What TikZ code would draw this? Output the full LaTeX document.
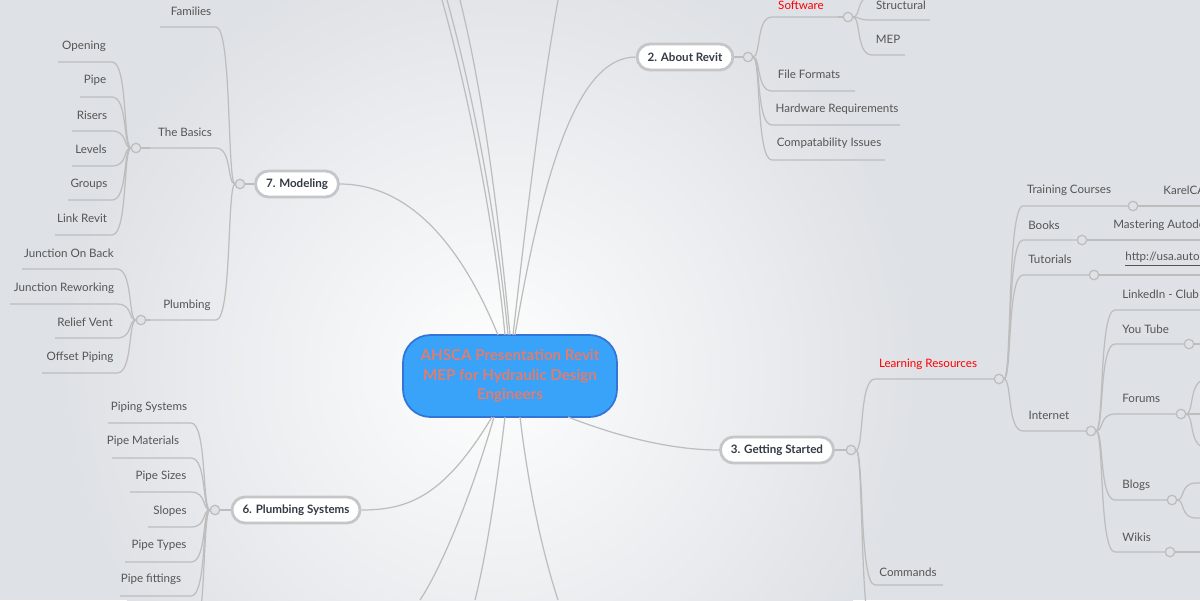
\documentclass[tikz,border=0pt]{standalone}
\usepackage{fontspec}
\setmainfont{Lato}
\begin{document}
\begin{tikzpicture}[x=0.02cm,y=-0.02cm,
  ln/.style={draw=lineg,line width=0.7pt},
  dot/.style={circle,draw=lineg,line width=0.7pt,fill=bgc,minimum size=0.19cm,inner sep=0pt},
  lab/.style={font=\fontsize{6.6}{8}\selectfont,text=txtg,inner sep=0pt},
  rlab/.style={lab,text=red},
  topic/.style={draw=topb,line width=1.6pt,fill=white,rounded corners=0.26cm,minimum height=0.52cm,inner xsep=6pt,font=\fontsize{6.6}{8}\selectfont\bfseries,text=txtd}]
\definecolor{bgc}{HTML}{DEE1E5}
\definecolor{lineg}{HTML}{BDBDBD}
\definecolor{txtg}{HTML}{555555}
\definecolor{txtd}{HTML}{333a44}
\definecolor{topb}{HTML}{C4C6C9}
\newcommand\rb[4]{\draw[ln] ({#1+5},#2) .. controls ({#1+13},#2) and ({#1+8},#3) .. ({#1+24},#3) -- (#4,#3);}
\newcommand\lb[4]{\draw[ln] ({#1-5},#2) .. controls ({#1-13},#2) and ({#1-8},#3) .. ({#1-24},#3) -- (#4,#3);}
\useasboundingbox (0,0) rectangle (1200,600);
\clip (0,0) rectangle (1200,600);
\fill[bgc] (0,0) rectangle (1200,600);
\shade[inner color=white!97!bgc,outer color=bgc] (490,370) circle (430);
% central
\node[draw=blue!60!cyan!80!black!80,line width=1pt,fill={rgb,255:red,56;green,163;blue,248},rounded corners=0.55cm,minimum width=4.28cm,minimum height=1.64cm,align=center,font=\fontsize{8.6}{11.2}\selectfont\bfseries,text={rgb,255:red,226;green,124;blue,110}] (ctr) at (510,376) {AHSCA Presentation Revit\\MEP for Hydraulic Design\\Engineers};
% topics
\node[topic] (about) at (685,57) {2. About Revit};
\node[topic] (model) at (297,184) {7. Modeling};
\node[topic] (gs) at (777,450) {3. Getting Started};
\node[topic] (ps) at (296,510) {6. Plumbing Systems};
\coordinate (t1) at (442,0); \coordinate (t2) at (447,0); \coordinate (t3) at (460,0); \coordinate (t4) at (558,0);
\coordinate (b1) at (420,600); \coordinate (b2) at (475,600); \coordinate (b3) at (558,600);
\draw[ln] (515,335) .. controls (545,160) and (580,57) .. (about.west);
\draw[ln] (498,335) .. controls (455,230) and (400,184) .. (model.east);
\draw[ln] (568,417) .. controls (640,445) and (690,450) .. (gs.west);
\draw[ln] (492,417) .. controls (445,495) and (410,510) .. (ps.east);
\draw[ln] (505,335) .. controls (495,230) and (470,100) .. (t1);
\draw[ln] (508,335) .. controls (498,230) and (475,100) .. (t2);
\draw[ln] (510,335) .. controls (500,230) and (485,100) .. (t3);
\draw[ln] (513,335) .. controls (525,230) and (540,100) .. (t4);
\draw[ln] (494,417) .. controls (470,500) and (440,570) .. (b1);
\draw[ln] (505,417) .. controls (495,500) and (485,560) .. (b2);
\draw[ln] (520,417) .. controls (530,500) and (545,560) .. (b3);
% 2. About Revit
\node[dot] (c2) at (748,57) {}; \draw[ln] (about.east) -- (c2.west);
\rb{748}{57}{17}{838}\rb{748}{57}{91}{855}\rb{748}{57}{125}{900}\rb{748}{57}{160}{885}
\node[rlab] (sw) at (801,5) {Software};
\node[lab] at (809,74) {File Formats};
\node[lab] at (837,109) {Hardware Requirements};
\node[lab] at (829,143) {Compatability Issues};
\node[dot] (c2a) at (848,17) {}; \draw[ln] (c2a.west) -- (838,17);
\rb{848}{17}{-4}{930}\rb{848}{17}{20}{930}\rb{848}{17}{55}{905}
\node[lab] at (901,5) {Structural};
\node[lab] at (888,39) {MEP};
% 7. Modeling
\node[dot] (c7) at (240,184) {}; \draw[ln] (model.west) -- (c7.east);
\lb{240}{184}{27}{160}\lb{240}{184}{148}{150}\lb{240}{184}{320}{150}
\node[lab] at (191,11) {Families};
\node[lab] at (185,132) {The Basics};
\node[lab] at (187,305) {Plumbing};
\node[dot] (c7a) at (136,148) {}; \draw[ln] (c7a.east) -- (150,148);
\lb{136}{148}{62}{58}\lb{136}{148}{97}{80}\lb{136}{148}{131}{72}\lb{136}{148}{166}{72}\lb{136}{148}{200}{68}\lb{136}{148}{235}{55}
\node[lab] at (84,46) {Opening};
\node[lab] at (95,80) {Pipe};
\node[lab] at (92,115) {Risers};
\node[lab] at (91,149) {Levels};
\node[lab] at (89,184) {Groups};
\node[lab] at (82,218) {Link Revit};
\node[dot] (c7b) at (141,320) {}; \draw[ln] (c7b.east) -- (150,320);
\lb{141}{320}{269}{22}\lb{141}{320}{304}{10}\lb{141}{320}{338}{55}\lb{141}{320}{373}{42}
\node[lab] at (69,253) {Junction On Back};
\node[lab] at (64,288) {Junction Reworking};
\node[lab] at (85,322) {Relief Vent};
\node[lab] at (80,357) {Offset Piping};
% 6. Plumbing Systems
\node[dot] (c6) at (215,510) {}; \draw[ln] (ps.west) -- (c6.east);
\lb{215}{510}{423}{108}\lb{215}{510}{458}{112}\lb{215}{510}{492}{130}\lb{215}{510}{527}{148}\lb{215}{510}{562}{125}\lb{215}{510}{596}{120}\lb{215}{510}{640}{120}
\node[lab] at (149,407) {Piping Systems};
\node[lab] at (143,441) {Pipe Materials};
\node[lab] at (161,476) {Pipe Sizes};
\node[lab] at (170,511) {Slopes};
\node[lab] at (159,545) {Pipe Types};
\node[lab] at (151,579) {Pipe fittings};
% 3. Getting Started
\node[dot] (c3) at (851,450) {}; \draw[ln] (gs.east) -- (c3.west);
\rb{851}{450}{379}{995}\rb{851}{450}{585}{943}\rb{851}{450}{640}{943}
\node[rlab] at (928,364) {Learning Resources};
\node[lab] at (908,572) {Commands};
\node[dot] (c3a) at (999,379) {};
\rb{999}{379}{206}{1128}\rb{999}{379}{240}{1077}\rb{999}{379}{275}{1089}\rb{999}{379}{431}{1086}
\node[lab] at (1069,190) {Training Courses};
\node[lab] at (1044,225) {Books};
\node[lab] at (1050,259) {Tutorials};
\node[lab] at (1049,415) {Internet};
\node[dot] (c3b) at (1133,206) {}; \draw[ln] (c3b.east) -- (1200,206);
\node[dot] (c3c) at (1082,240) {}; \draw[ln] (c3c.east) -- (1200,240);
\node[dot] (c3d) at (1094,275) {}; \draw[ln] (c3d.east) -- (1200,275);
\node[lab,anchor=west] at (1163,190) {KarelCAD};
\node[lab,anchor=west] at (1113,225) {Mastering Autodesk};
\node[lab,anchor=west] at (1125,259) {\underline{http://usa.autodesk}};
\node[dot] (c3e) at (1091,431) {};
\rb{1091}{431}{310}{1200}\rb{1091}{431}{344}{1184}\rb{1091}{431}{414}{1176}\rb{1091}{431}{500}{1167}\rb{1091}{431}{552}{1165}
\node[lab,anchor=west] at (1122,294) {LinkedIn - Club Revit};
\node[lab,anchor=west] at (1122,329) {You Tube};
\node[lab,anchor=west] at (1122,398) {Forums};
\node[lab,anchor=west] at (1122,485) {Blogs};
\node[lab,anchor=west] at (1122,537) {Wikis};
\node[dot] (c3f) at (1189,344) {}; \draw[ln] (c3f.east) -- (1200,344);
\node[dot] (c3g) at (1181,414) {}; \draw[ln] (c3g.east) -- (1200,414);
\rb{1181}{414}{380}{1210}\rb{1181}{414}{447}{1210}
\node[dot] (c3h) at (1172,500) {};
\rb{1172}{500}{483}{1210}\rb{1172}{500}{518}{1210}
\node[dot] (c3i) at (1170,552) {}; \draw[ln] (c3i.east) -- (1200,552);
\end{tikzpicture}
\end{document}
